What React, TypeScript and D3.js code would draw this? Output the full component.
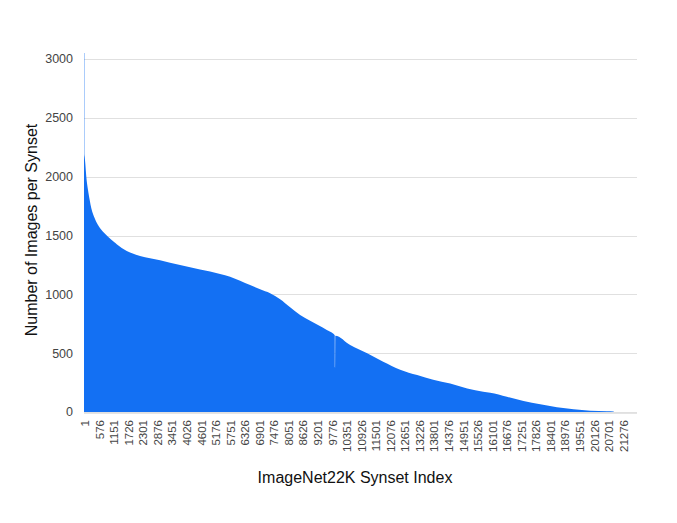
import * as d3 from 'd3';

// synset index (sorted by image count) and images per synset
const synsetIndex = [
  1, 15, 16, 29, 52, 92, 159, 226, 290, 424, 554, 752, 950, 1214, 1293, 1689, 2214, 3005, 3795,
  4586, 4981, 5376, 5771, 6166, 6561, 6957, 7352, 7747, 8142, 8537, 8932, 9591, 9905, 9906, 9925,
  9926, 10513, 11185, 11817, 12489, 13161, 13793, 14465, 15137, 15769, 16045, 16704, 17361,
  18021, 18681, 19338, 19998, 20657, 20906, 20946, 21841,
];
const imageCount = [
  3050, 3050, 2190, 2167, 2111, 2000, 1887, 1802, 1731, 1646, 1589, 1532, 1490, 1440, 1426, 1368,
  1326, 1290, 1249, 1212, 1193, 1173, 1150, 1116, 1079, 1043, 1009, 958, 890, 824, 775, 697, 652,
  380, 380, 648, 569, 499, 428, 360, 314, 275, 242, 200, 172, 164, 130, 93, 65, 40, 23, 11, 6, 4,
  1, 1,
];
const xTickLabels = [
  1, 576, 1151, 1726, 2301, 2876, 3451, 4026, 4601, 5176, 5751, 6326, 6901, 7476, 8051, 8626,
  9201, 9776, 10351, 10926, 11501, 12076, 12651, 13226, 13801, 14376, 14951, 15526, 16101, 16676,
  17251, 17826, 18401, 18976, 19551, 20126, 20701, 21276,
];
const yTicks = [0, 500, 1000, 1500, 2000, 2500, 3000];

const width = 677;
const height = 523;
const margin = { top: 59, right: 40, bottom: 111, left: 84 };
const font = 'Arial, "Liberation Sans", sans-serif';

export default function App() {
  const x = d3
    .scaleLinear()
    .domain([1, 21842])
    .range([margin.left, width - margin.right]);
  const y = d3
    .scaleLinear()
    .domain([0, 3000])
    .range([height - margin.bottom, margin.top]);

  const points = synsetIndex.map((d, i) => ({ idx: d, v: imageCount[i] }));
  const area = d3
    .area<{ idx: number; v: number }>()
    .x((d) => x(d.idx))
    .y0(y(0))
    .y1((d) => y(d.v))
    .curve(d3.curveMonotoneX);

  return (
    <div style={{ position: 'absolute', left: 0, top: 0 }}>
      <svg width={width} height={height} style={{ display: 'block', background: '#fff' }}>
        {/* gridlines */}
        {yTicks.map((t) => (
          <line
            key={t}
            x1={margin.left}
            x2={width - margin.right}
            y1={Math.round(y(t)) + 0.5}
            y2={Math.round(y(t)) + 0.5}
            stroke="#e0e0e0"
          />
        ))}
        <path d={area(points) ?? ''} fill="#1370f3" />
        <line
          x1={margin.left}
          x2={width - margin.right}
          y1={y(0) + 1.5}
          y2={y(0) + 1.5}
          stroke="#e4e4e4"
        />
        {/* y axis labels */}
        {yTicks.map((t) => (
          <text
            key={t}
            x={73}
            y={y(t)}
            dy="0.35em"
            textAnchor="end"
            fontFamily={font}
            fontSize={12.5}
            fill="#444"
          >
            {t}
          </text>
        ))}
        {/* x axis labels */}
        {xTickLabels.map((t) => (
          <text
            key={t}
            transform={`translate(${x(t + 0.5) + 1},${y(0) + 8}) rotate(-90)`}
            dy="0.35em"
            textAnchor="end"
            fontFamily={font}
            fontSize={11.5}
            fill="#444"
          >
            {t}
          </text>
        ))}
        <text
          x={355}
          y={483}
          textAnchor="middle"
          fontFamily={font}
          fontSize={16}
          fill="#111"
        >
          ImageNet22K Synset Index
        </text>
        <text
          transform={`translate(37,230) rotate(-90)`}
          textAnchor="middle"
          fontFamily={font}
          fontSize={16}
          fill="#111"
        >
          Number of Images per Synset
        </text>
      </svg>
    </div>
  );
}
